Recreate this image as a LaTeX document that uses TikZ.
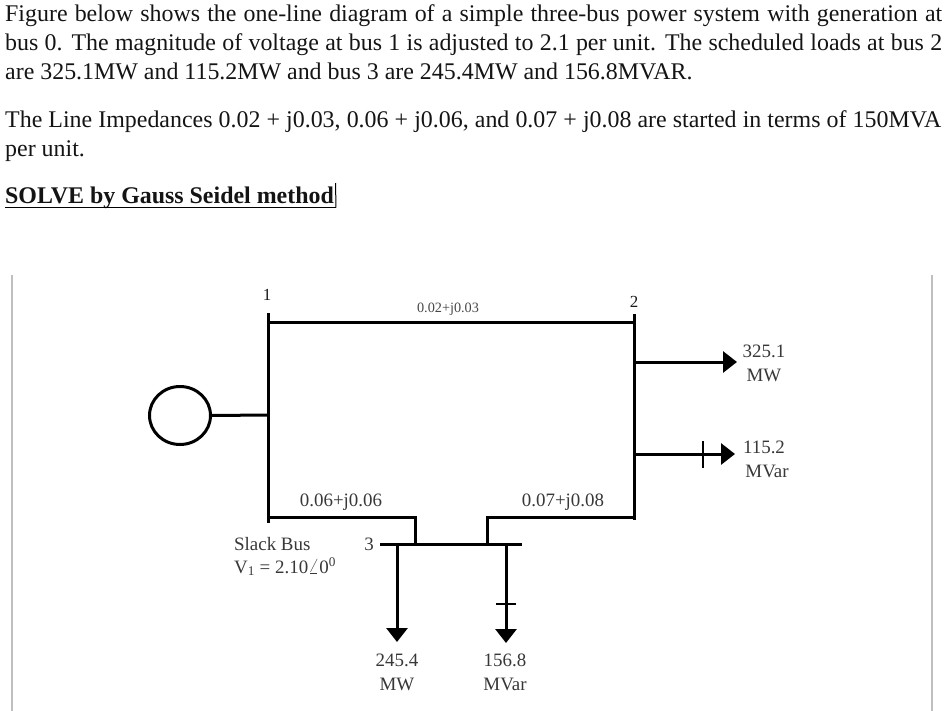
\documentclass[tikz,border=0pt]{standalone}
\usepackage{fontspec}
\setmainfont{Liberation Serif}
\usetikzlibrary{arrows.meta,shapes.geometric}
\tikzset{
  para/.style={anchor=base west,inner sep=0pt,font=\fontsize{24}{28}\selectfont,text=black!92},
  lbl/.style={inner sep=0pt,align=center,font=\fontsize{19}{24}\selectfont,text=black!78},
  small/.style={inner sep=0pt,font=\fontsize{14.3}{17}\selectfont,text=black!72},
  wire/.style={line width=3bp,line join=miter},
  thin wire/.style={line width=2.6bp},
  load/.style={line width=3bp,-{Triangle[length=14bp,width=21bp]}},
  frameline/.style={line width=2.5bp,black!25}
}
\begin{document}
\begin{tikzpicture}[x=1bp,y=-1bp]
\useasboundingbox (0,0) rectangle (945,711);
% text block
\node[para] (t1) at (5,22) {\hbox to 937bp{Figure below shows the one-line diagram of a simple three-bus power system with generation at}};
\node[para] (t2) at (5,51) {\hbox to 937bp{bus 0. The magnitude of voltage at bus 1 is adjusted to 2.1 per unit. The scheduled loads at bus 2}};
\node[para] (t3) at (5,80) {are 325.1MW and 115.2MW and bus 3 are 245.4MW and 156.8MVAR.};
\node[para] (t4) at (5,128) {\hbox to 936bp{The Line Impedances 0.02 + j0.03, 0.06 + j0.06, and 0.07 + j0.08 are started in terms of 150MVA}};
\node[para] (t5) at (5,157) {per unit.};
\node[para,font=\fontsize{24}{28}\selectfont\bfseries] (t6) at (5,203) {\hbox to 331bp{SOLVE by Gauss Seidel method\hfil}};
\coordinate (ulA) at (5,207.5);
\coordinate (ulB) at (336,207.5);
\coordinate (curA) at (335.5,183);
\draw[line width=1.8bp] (ulA) -- (ulB);
\draw[line width=1bp] (curA) -- (ulB);
% side rules
\coordinate (fl1) at (12,275); \coordinate (fl2) at (12,711);
\coordinate (fr1) at (932,275); \coordinate (fr2) at (932,711);
\draw[frameline] (fl1) -- (fl2);
\draw[frameline] (fr1) -- (fr2);
% generator
\node[ellipse,draw,line width=3bp,minimum width=61bp,minimum height=58bp,inner sep=0pt] (gen) at (180,415.5) {};
% bus points
\coordinate (b1top) at (268,313); \coordinate (b1bot) at (268,523);
\coordinate (b1g) at (268,415);
\coordinate (b1a) at (268,322); \coordinate (b2a) at (634,322);
\coordinate (b2top) at (634,314); \coordinate (b2bot) at (634,520);
\coordinate (b1c) at (268,517); \coordinate (c1) at (415,517); \coordinate (c1d) at (415,544);
\coordinate (b2c) at (634,517); \coordinate (c2) at (487,517); \coordinate (c2d) at (487,544);
\coordinate (b3l) at (380,544); \coordinate (b3r) at (522,544);
\draw[wire] (b1top) -- (b1bot);
\draw[wire] (b2top) -- (b2bot);
\draw[wire] (b1a) -- (b2a);
\draw[wire] (gen.east) -- (b1g);
\draw[wire] (b1c) -- (c1) -- (c1d);
\draw[wire] (b2c) -- (c2) -- (c2d);
\draw[wire] (b3l) -- (b3r);
% loads
\coordinate (l1s) at (634,362); \coordinate (l1e) at (737,362);
\coordinate (l2s) at (634,454); \coordinate (l2e) at (735,454);
\coordinate (l3s) at (397,544); \coordinate (l3e) at (397,642);
\coordinate (l4s) at (506,544); \coordinate (l4e) at (506,643);
\draw[load] (l1s) -- (l1e);
\draw[load] (l2s) -- (l2e);
\draw[load] (l3s) -- (l3e);
\draw[load] (l4s) -- (l4e);
% ticks
\coordinate (k1a) at (703,441); \coordinate (k1b) at (703,468);
\coordinate (k2a) at (496,604); \coordinate (k2b) at (516,604);
\draw[thin wire] (k1a) -- (k1b);
\draw[thin wire] (k2a) -- (k2b);
% labels
\node[lbl,font=\fontsize{17}{20}\selectfont,text=black!90] (n1) at (267,295) {1};
\node[lbl,font=\fontsize{17}{20}\selectfont,text=black!90] (n2) at (634,302) {2};
\node[lbl] (n3) at (369,544) {3};
\node[small] (z12) at (448,309) {0.02+j0.03};
\node[lbl] (z13) at (341,502) {0.06+j0.06};
\node[lbl] (z23) at (563,502) {0.07+j0.08};
\node[lbl] (p2) at (764,351) {325.1};
\node[lbl] (p2u) at (764,375) {MW};
\node[lbl] (q2) at (764,447) {115.2};
\node[lbl] (q2u) at (767,471) {MVar};
\node[lbl] (p3) at (397,660) {245.4};
\node[lbl] (p3u) at (397,684) {MW};
\node[lbl] (q3) at (505,660) {156.8};
\node[lbl] (q3u) at (505,684) {MVar};
\node[lbl,anchor=west] (sl) at (234,544) {Slack Bus};
\node[lbl,anchor=west] (v1) at (234,567) {V\textsubscript{1} = 2.10$\angle$0\textsuperscript{0}};
\end{tikzpicture}
\end{document}
